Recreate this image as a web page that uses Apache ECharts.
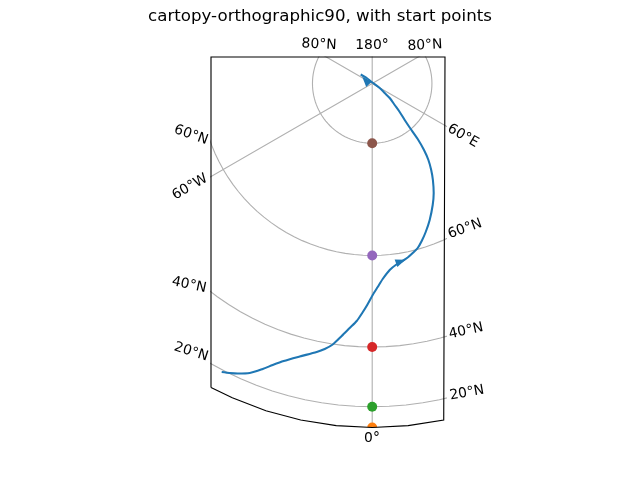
<!DOCTYPE html>
<html><head><meta charset="utf-8">
<style>html,body{margin:0;padding:0;background:#fff}#c{width:640px;height:480px}</style>
<script src="https://cdn.jsdelivr.net/npm/echarts@6/dist/echarts.min.js"></script>
</head><body><div id="c"></div>
<script>
// Map units: globe radius = 344, pole at the origin, lon 0 pointing down.
const globeRadius = 344;
const xLimits = [-161.2, 72.8];
const yLimits = [-343.5, 26.5];
const gridLats = [80, 60, 40, 20];
const gridLons = [0, 60, -60];
const startLats = [0, 20, 40, 60, 80];
const startLon = 0;
const startColors = ['#ff7f0e', '#2ca02c', '#d62728', '#9467bd', '#8c564b'];
const trackX = [-150.5,-142.5,-134.5,-122.5,-109.5,-99.5,-88.5,-72.5,-55.5,-47.5,-39.5,-30.5,-22.5,-15.5,-10,-5,0.5,5.5,10.5,17.5,23.5,29.5,35.5,40.5,45.5,49.5,53.5,57.5,60.5,61.5,60.7,59,56.2,51.8,45.5,37.5,32.5,27.5,22.5,17.5,12.5,7.5,-0.5,-5.5,-11.5];
const trackY = [-288.5,-289.5,-290,-289.5,-285.5,-281.5,-277.5,-273,-268.5,-265.5,-261,-252.5,-244.5,-237.5,-229.5,-221.5,-211.5,-203.5,-195.5,-186.5,-181.5,-178,-174,-169.5,-164.5,-157.5,-148.5,-136.5,-121.5,-109.5,-96.5,-86.5,-76.5,-66.5,-55.5,-44,-36.5,-28.5,-21.5,-14.5,-9.5,-4.5,1.5,5.5,9];
const arrowX = [28.5, -6.5];
const arrowY = [-178, 3];
const arrowRot = [-70, 43];
const title = 'cartopy-orthographic90, with start points';
const tickTexts = ['80°N','180°','80°N','60°E','60°N','40°N','20°N','60°N','60°W','40°N','20°N','0°'];
const tickX = [319,372,425,463,465,466,467,191,190,189,191,372];
const tickY = [44.5,45.5,45.5,136,229,331,393,135,187,285,352,438.5];
const tickRot = [-3,0,3,-30,20,12,10,-20,30,-12,-18,0];

const rad = d => d * Math.PI / 180;
const project = (lon, lat) => [globeRadius * Math.cos(rad(lat)) * Math.sin(rad(lon)),
                               -globeRadius * Math.cos(rad(lat)) * Math.cos(rad(lon))];
const grey = '#b0b0b0';
const series = [];
function line(data, color, width, z, clip, smooth) {
  series.push({type:'line', data, symbol:'none', silent:true, z, clip, smooth: smooth || false,
    lineStyle:{color, width, cap:'butt', join:'miter'}, animation:false});
}
// parallels
gridLats.forEach(lat => {
  const pts = [];
  for (let lon = -180; lon <= 180; lon += 3) pts.push(project(lon, lat));
  line(pts, grey, 1.11, 1, true);
});
// meridians: each runs through the pole to its antimeridian
gridLons.forEach(lon => {
  line([project(lon, 0), [0, 0], project(lon + 180, 0)], grey, 1.11, 1, true);
});
// track and arrows
line(trackX.map((x, i) => [x, trackY[i]]), '#1f77b4', 2.08, 3, true, 0.25);
series.push({type:'scatter', z:3, silent:true, animation:false, symbol:'triangle', symbolSize:[8,10],
  itemStyle:{color:'#1f77b4', opacity:1},
  data: arrowX.map((x, i) => ({value:[x, arrowY[i]], symbolRotate:arrowRot[i]}))});
// start points
series.push({type:'scatter', z:2, silent:true, animation:false, symbolSize:10, clip:false,
  data: startLats.map((lat, i) => ({value: project(startLon, lat), itemStyle:{color:startColors[i], opacity:1}}))});
// boundary: equator at 6 degree steps, cut at the x limits
const edgeY = x => -Math.sqrt(globeRadius * globeRadius - x * x);
const eq = [[xLimits[0], edgeY(xLimits[0])]];
for (let lon = -24; lon <= 12; lon += 6) eq.push(project(lon, 0));
eq.push([xLimits[1], edgeY(xLimits[1])]);
// white mask outside of the globe
series.push({type:'custom', z:4, silent:true, animation:false, clip:false,
  renderItem:(p, api) => ({type:'polygon', shape:{points:
    eq.concat([[xLimits[1], yLimits[0]-12],[xLimits[0], yLimits[0]-12]]).map(q => api.coord(q))},
    style:{fill:'#fff', stroke:null}}),
  data:[[0,0]]});
line(eq.concat([[xLimits[1], yLimits[1]],[xLimits[0], yLimits[1]],eq[0]]), '#000', 1.11, 5, false);

const chart = echarts.init(document.getElementById('c'), null, {renderer:'canvas'});
const font = 'DejaVu Sans';
chart.setOption({
  animation:false, backgroundColor:'#fff',
  grid:{left:211, top:57, width:234, height:370},
  xAxis:{type:'value', min:xLimits[0], max:xLimits[1], show:false},
  yAxis:{type:'value', min:yLimits[0], max:yLimits[1], show:false},
  graphic:[{type:'text', x:320, y:17, z:20, style:{text:title, align:'center', verticalAlign:'middle',
      font:'16.67px "'+font+'"', fill:'#000'}}]
    .concat(tickTexts.map((t, i) => ({type:'text', x:tickX[i], y:tickY[i], rotation:rad(tickRot[i]), z:20,
      style:{text:t, align:'center', verticalAlign:'middle', font:'13.89px "'+font+'"', fill:'#000'}}))),
  series
});
</script></body></html>
